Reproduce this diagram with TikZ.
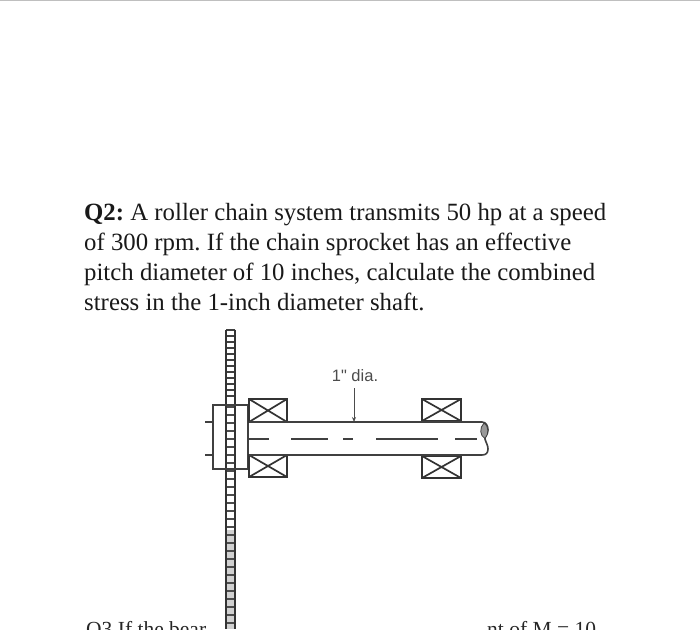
\documentclass[tikz,border=0pt]{standalone}
\usepackage{fontspec}
\usetikzlibrary{arrows.meta}
\setmainfont{Liberation Serif}
\newfontfamily\lblfont{Liberation Sans}
\tikzset{
  x=1pt,y=-1pt,
  ln/.style={draw=black!75,line width=1.6pt},
  para/.style={anchor=base west,inner sep=0pt,font=\fontsize{24.8}{25}\selectfont\frenchspacing,text=black!90},
  cutoff/.style={anchor=base west,inner sep=0pt,font=\fontsize{21.5}{22}\selectfont\frenchspacing,text=black!85},
  brg/.style={draw=black!80,line width=1.7pt}
}
\newcommand{\bearing}[4]{%
  \draw[brg] (#1,#2) rectangle (#3,#4);
  \draw[brg] (#1,#2) -- (#3,#4) (#1,#4) -- (#3,#2);}
\begin{document}
\begin{tikzpicture}
\useasboundingbox (0,0) rectangle (700,629);
\clip (0,0) rectangle (700,629);
\draw[black!25,line width=1pt] (0,0.5) -- (700,0.5);
\node[para] (l1) at (84,220) {\textbf{Q2:} A roller chain system transmits 50 hp at a speed};
\node[para] (l2) at (84,250) {of 300 rpm. If the chain sprocket has an effective};
\node[para] (l3) at (84,280) {pitch diameter of 10 inches, calculate the combined};
\node[para] (l4) at (84,310) {stress in the 1-inch diameter shaft.};
\node[cutoff] (c1) at (86,636) {Q3 If the bear};
\node[cutoff] (c2) at (487,636) {nt of M = 10};
% chain
\fill[black!18] (226,530) rectangle (235,629);
\foreach \yy in {330,336,...,400} \draw[black!75,line width=1.5pt] (226,\yy) -- (235,\yy);
\foreach \yy in {407,415,...,629} \draw[black!70,line width=1.8pt] (226,\yy) -- (235,\yy);
\draw[black!80,line width=2pt] (226,329.5) -- (226,629) (235,329.5) -- (235,629);
% hub
\draw[ln] (249,405) -- (213,405) -- (213,469) -- (249,469);
\draw[ln] (205,422) -- (213,422) (205,455) -- (213,455);
\draw[ln] (248,405) -- (248,469);
% bearings
\bearing{249}{399}{287}{422}
\bearing{249}{455}{287}{477}
\bearing{422}{399}{461}{421}
\bearing{422}{456}{461}{478}
% shaft
\draw[ln] (249,422) -- (482,422) .. controls (486,422) and (488,426) .. (488,430) .. controls (488,435) and (484,437) .. (485,439) .. controls (486,443) and (488,445) .. (488,449) .. controls (488,453) and (486,455) .. (482,455) -- (249,455);
\draw[line width=0.8pt,draw=black!75,fill=black!40] (484,423) .. controls (479,428) and (480,436) .. (485,438.5) .. controls (489,434) and (489,426) .. (484,423) -- cycle;
% centre line
\foreach \a/\b in {249/269,291/328,343/353,376/438,455/477} \draw[ln] (\a,439) -- (\b,439);
% label + arrow
\node[inner sep=0pt,font=\lblfont\fontsize{16.5}{17}\selectfont,text=black!70] (dia) at (355,376) {1" dia.};
\coordinate (tip) at (354,422);
\draw[black!70,line width=1pt,-{Stealth[length=5pt,width=4pt]}] (354,388) -- (tip);
\end{tikzpicture}
\end{document}
